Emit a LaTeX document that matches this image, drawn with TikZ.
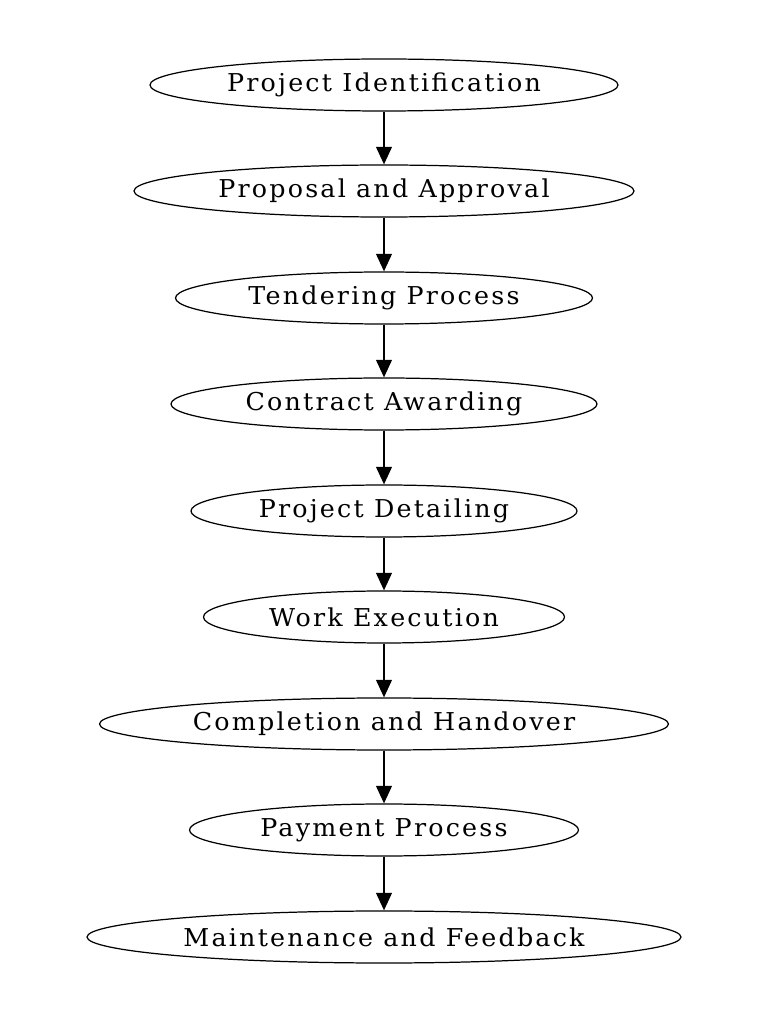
\documentclass[tikz,border=0pt]{standalone}
\usepackage{fontspec}
\setmainfont{DejaVu Serif}[LetterSpace=9,FakeStretch=1.03]
\usetikzlibrary{shapes.geometric,arrows.meta}
\begin{document}
\begin{tikzpicture}
\tikzset{stage/.style={draw,ellipse,inner sep=0pt,minimum height=0.52cm,font=\fontsize{7}{8}\selectfont,line width=0.35pt},
link/.style={-{Triangle[length=5pt,width=4.5pt]},line width=0.5pt}}
\useasboundingbox (0,0) rectangle (7.68,10.24);
\def\X{3.84}
\node[stage,minimum width=4.68cm] (n1) at (\X,{(1024-85)/100}) {Project Identification};
\node[stage,minimum width=5.00cm] (n2) at (\X,{(1024-191)/100}) {Proposal and Approval};
\node[stage,minimum width=4.17cm] (n3) at (\X,{(1024-298)/100}) {Tendering Process};
\node[stage,minimum width=4.26cm] (n4) at (\X,{(1024-404)/100}) {Contract Awarding};
\node[stage,minimum width=3.86cm] (n5) at (\X,{(1024-511)/100}) {Project Detailing};
\node[stage,minimum width=3.61cm] (n6) at (\X,{(1024-617)/100}) {Work Execution};
\node[stage,minimum width=5.69cm] (n7) at (\X,{(1024-724)/100}) {Completion and Handover};
\node[stage,minimum width=3.89cm] (n8) at (\X,{(1024-830)/100}) {Payment Process};
\node[stage,minimum width=5.94cm] (n9) at (\X,{(1024-937)/100}) {Maintenance and Feedback};
\foreach \a/\b in {n1/n2,n2/n3,n3/n4,n4/n5,n5/n6,n6/n7,n7/n8,n8/n9}
  \draw[link] (\a) -- (\b);
\end{tikzpicture}
\end{document}
